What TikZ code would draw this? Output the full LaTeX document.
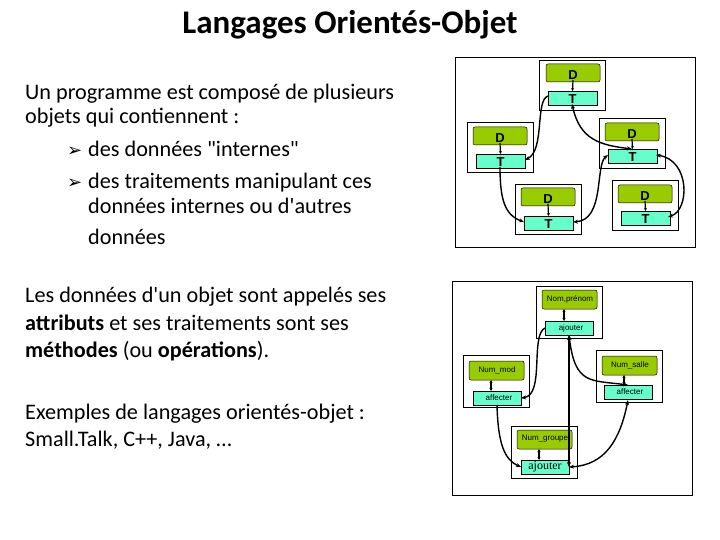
\documentclass[tikz,border=0pt]{standalone}
\usepackage{fontspec}
\setmainfont{Carlito}
\newfontfamily\djv{DejaVu Sans}
\newfontfamily\lsans{Liberation Sans}
\usetikzlibrary{arrows.meta}
\definecolor{dg}{RGB}{153,204,0}
\definecolor{tc}{RGB}{102,255,204}
\begin{document}
\begin{tikzpicture}[x=1pt,y=-1pt,
  txt/.style={anchor=base west,inner sep=0,font=\fontsize{22.2}{26}\selectfont},
  frm/.style={draw,line width=0.6pt},
  dbox/.style={draw,fill=dg,rounded corners=2pt,line width=0.5pt},
  tbox/.style={draw,fill=tc,line width=0.5pt},
  lab/.style={font=\lsans\bfseries\fontsize{13}{13}\selectfont,inner sep=0},
  slab/.style={font=\lsans\fontsize{8}{8}\selectfont,inner sep=0},
  con/.style={line width=1.4pt,-{Stealth[length=5pt,width=4pt]}},
  bcon/.style={line width=1.4pt,{Stealth[length=5pt,width=4pt]}-{Stealth[length=5pt,width=4pt]}},
  sh/.style={line width=1.2pt,-{Stealth[length=3pt,width=3pt]}}]
\useasboundingbox (0,0) rectangle (720,540);
\node[font=\bfseries\fontsize{33}{36}\selectfont] (title) at (350,25) {Langages Orientés-Objet};
\node[txt] (l1) at (25,100) {Un programme est composé de plusieurs};
\node[txt] (l2) at (25,124) {objets qui contiennent :};
\node[txt] (b1) at (67,157) {\djv\fontsize{18}{20}\selectfont ➢};
\node[txt] (l3) at (88,157) {des données \textquotedbl internes\textquotedbl};
\node[txt] (b2) at (67,189) {\djv\fontsize{18}{20}\selectfont ➢};
\node[txt] (l4) at (88,189) {des traitements manipulant ces};
\node[txt] (l5) at (88,214) {données internes ou d\textquotesingle autres};
\node[txt] (l6) at (88,244) {données};
\node[txt] (l7) at (25,302) {Les données d\textquotesingle un objet sont appelés ses};
\node[txt] (l8) at (25,330) {\textbf{attributs} et ses traitements sont ses};
\node[txt] (l9) at (25,357) {\textbf{méthodes} (ou \textbf{opérations}).};
\node[txt] (l10) at (25,419) {Exemples de langages orientés-objet :};
\node[txt] (l11) at (25,446) {Small.Talk, C++, Java, …};

% top diagram
\draw[frm] (455,57) rectangle (695,247);
\foreach \n/\fx/\fy/\dx/\dy/\tx/\ty in {
 a/539/60/546/64/548/91,
 b/467/122/473/127/476/154,
 c/599/118/605/123/608/149,
 d/515/184/521/188/524/216,
 e/612/180/618/185/621/211}{
  \draw[frm] (\fx,\fy) rectangle ++(66,50);
  \draw[dbox] (\dx,\dy) rectangle ++(54,18);
  \draw[tbox] (\tx,\ty) rectangle ++(49,14);
  \coordinate (\n T) at (\tx+24.5,\ty+7);
  \coordinate (\n Tn) at (\tx+24.5,\ty);
  \node[lab] (\n dl) at (\dx+27,\dy+11) {D};
  \node[lab] (\n tl) at (\tx+24.5,\ty+8) {T};
  \draw[sh] (\dx+27,\dy+16) -- (\n Tn);
}
\draw[con] (548,96) .. controls (535,100) and (545,150) .. (525,160);
\draw[bcon] (572,104) .. controls (580,140) and (600,145) .. (632,149);
\draw[con] (500,167) .. controls (500,200) and (505,215) .. (524,222);
\draw[bcon] (608,155) .. controls (595,165) and (605,220) .. (573,222);
\draw[bcon] (656,155) .. controls (690,160) and (690,210) .. (668,217);

% bottom diagram
\draw[frm] (452,281) rectangle (692,495);
\foreach \n/\fx/\fy/\dx/\dy/\tx/\ty/\dt/\tt/\ser in {
 A/536/286/542/290/545/321/{Nom,prénom}/ajouter/0,
 B/463/355/469/361/473/391/Num\_mod/affecter/0,
 C/596/350/602/356/604/385/Num\_salle/affecter/0,
 D/511/426/517/430/521/460/Num\_groupe/ajouter/1}{
  \draw[frm] (\fx,\fy) rectangle ++(66,52);
  \draw[dbox] (\dx,\dy) rectangle ++(55,19);
  \draw[tbox] (\tx,\ty) rectangle ++(48,14);
  \node[slab] (\n dl) at (\dx+28,\dy+9) {\dt};
  \ifnum\ser=1
    \node[font=\fontsize{12}{12}\selectfont\rmfamily,inner sep=0] (\n tl) at (\tx+24,\ty+7) {\fontspec{Liberation Serif}\tt};
  \else
    \node[slab] (\n tl) at (\tx+26,\ty+7) {\tt};
  \fi
  \draw[line width=1.2pt,{Stealth[length=3pt,width=3pt]}-{Stealth[length=3pt,width=3pt]}] (\dx+22,\dy+19) -- (\dx+22,\ty);
}
\draw[con] (545,328) .. controls (530,335) and (545,395) .. (521,398);
\draw[bcon] (569,335) .. controls (575,385) and (590,380) .. (628,385);
\draw[bcon] (569,335) -- (569,467);
\draw[con] (497,405) .. controls (498,445) and (505,460) .. (521,467);
\draw[bcon] (628,400) .. controls (620,440) and (605,465) .. (569,467);
\end{tikzpicture}
\end{document}
